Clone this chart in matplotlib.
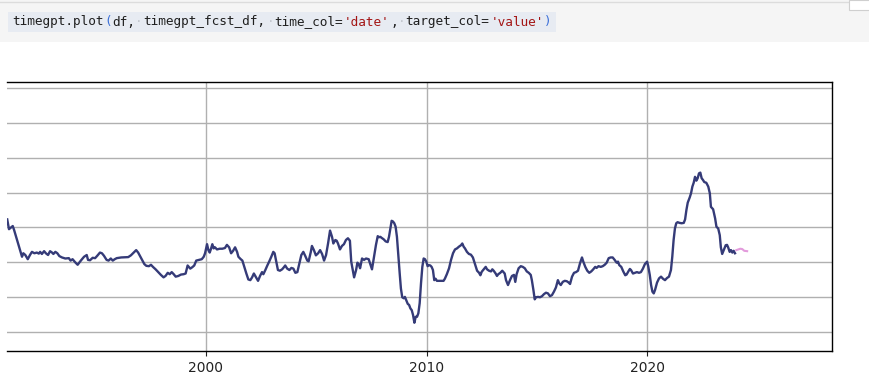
import matplotlib
matplotlib.use("Agg")
import matplotlib.pyplot as plt
from matplotlib.patches import Rectangle

# serie historica (ano decimal, valor)
anos = [1991.01, 1991.09, 1991.26, 1991.32, 1991.68, 1991.74, 1991.83, 1991.94,
        1992.04, 1992.13, 1992.24, 1992.35, 1992.44, 1992.50, 1992.58, 1992.68,
        1992.76, 1992.86, 1992.95, 1993.04, 1993.10, 1993.19, 1993.28, 1993.37,
        1993.49, 1993.64, 1993.80, 1993.88, 1993.97, 1994.09, 1994.20, 1994.27,
        1994.37, 1994.49, 1994.61, 1994.67, 1994.76, 1994.88, 1994.99, 1995.09,
        1995.21, 1995.30, 1995.39, 1995.51, 1995.60, 1995.70, 1995.79, 1995.88,
        1995.97, 1996.17, 1996.49, 1996.61, 1996.74, 1996.85, 1996.94, 1997.04,
        1997.13, 1997.22, 1997.31, 1997.43, 1997.52, 1997.61, 1997.73, 1997.85,
        1997.97, 1998.09, 1998.18, 1998.28, 1998.37, 1998.46, 1998.55, 1998.64,
        1998.76, 1998.88, 1999.00, 1999.09, 1999.18, 1999.30, 1999.39, 1999.48,
        1999.57, 1999.69, 1999.82, 1999.91, 1999.97, 2000.06, 2000.12, 2000.18,
        2000.24, 2000.30, 2000.36, 2000.42, 2000.51, 2000.63, 2000.75, 2000.87,
        2000.96, 2001.06, 2001.15, 2001.24, 2001.33, 2001.42, 2001.48, 2001.57,
        2001.66, 2001.75, 2001.84, 2001.93, 2002.02, 2002.10, 2002.18, 2002.28,
        2002.37, 2002.46, 2002.55, 2002.61, 2002.70, 2002.79, 2002.88, 2002.97,
        2003.06, 2003.12, 2003.18, 2003.27, 2003.36, 2003.46, 2003.54, 2003.60,
        2003.69, 2003.79, 2003.88, 2003.97, 2004.06, 2004.15, 2004.24, 2004.33,
        2004.42, 2004.51, 2004.60, 2004.66, 2004.76, 2004.81, 2004.90, 2004.99,
        2005.09, 2005.18, 2005.27, 2005.36, 2005.45, 2005.54, 2005.63, 2005.72,
        2005.78, 2005.87, 2005.93, 2005.99, 2006.08, 2006.17, 2006.26, 2006.35,
        2006.44, 2006.53, 2006.59, 2006.66, 2006.72, 2006.81, 2006.87, 2006.93,
        2006.99, 2007.08, 2007.17, 2007.26, 2007.38, 2007.47, 2007.53, 2007.62,
        2007.71, 2007.79, 2007.85, 2007.91, 2007.97, 2008.06, 2008.15, 2008.24,
        2008.30, 2008.36, 2008.42, 2008.48, 2008.54, 2008.60, 2008.66, 2008.72,
        2008.79, 2008.84, 2008.90, 2008.97, 2009.02, 2009.08, 2009.15, 2009.21,
        2009.27, 2009.33, 2009.39, 2009.45, 2009.51, 2009.57, 2009.63, 2009.69,
        2009.75, 2009.81, 2009.87, 2009.93, 2009.99, 2010.05, 2010.11, 2010.17,
        2010.23, 2010.29, 2010.35, 2010.41, 2010.47, 2010.56, 2010.68, 2010.77,
        2010.83, 2010.92, 2011.02, 2011.11, 2011.20, 2011.29, 2011.38, 2011.47,
        2011.56, 2011.62, 2011.68, 2011.74, 2011.83, 2011.92, 2012.01, 2012.10,
        2012.16, 2012.23, 2012.29, 2012.38, 2012.44, 2012.50, 2012.59, 2012.68,
        2012.74, 2012.83, 2012.92, 2012.98, 2013.04, 2013.13, 2013.19, 2013.25,
        2013.34, 2013.43, 2013.54, 2013.60, 2013.69, 2013.78, 2013.87, 2013.96,
        2014.02, 2014.08, 2014.17, 2014.27, 2014.36, 2014.45, 2014.54, 2014.63,
        2014.72, 2014.77, 2014.84, 2014.90, 2014.96, 2015.05, 2015.14, 2015.23,
        2015.32, 2015.41, 2015.50, 2015.59, 2015.68, 2015.77, 2015.86, 2015.95,
        2016.01, 2016.08, 2016.17, 2016.26, 2016.35, 2016.44, 2016.50, 2016.59,
        2016.68, 2016.77, 2016.86, 2016.95, 2017.04, 2017.10, 2017.19, 2017.28,
        2017.37, 2017.46, 2017.55, 2017.64, 2017.70, 2017.79, 2017.89, 2017.98,
        2018.07, 2018.16, 2018.25, 2018.34, 2018.43, 2018.52, 2018.61, 2018.67,
        2018.73, 2018.82, 2018.91, 2019.00, 2019.06, 2019.15, 2019.21, 2019.26,
        2019.35, 2019.44, 2019.53, 2019.62, 2019.71, 2019.80, 2019.89, 2019.99,
        2020.04, 2020.11, 2020.17, 2020.23, 2020.29, 2020.35, 2020.44, 2020.53,
        2020.62, 2020.71, 2020.80, 2020.89, 2020.98, 2021.07, 2021.13, 2021.19,
        2021.25, 2021.31, 2021.37, 2021.46, 2021.55, 2021.65, 2021.71, 2021.77,
        2021.83, 2021.92, 2021.98, 2022.04, 2022.10, 2022.16, 2022.22, 2022.28,
        2022.34, 2022.40, 2022.46, 2022.52, 2022.58, 2022.67, 2022.76, 2022.83,
        2022.88, 2022.98, 2023.07, 2023.13, 2023.21, 2023.28, 2023.33, 2023.39,
        2023.46, 2023.55, 2023.61, 2023.66, 2023.73, 2023.79, 2023.85, 2023.91,
        2023.97]

valores = [1.23, 0.95, 1.04, 0.93, 0.16, 0.26, 0.21, 0.09,
           0.21, 0.30, 0.26, 0.28, 0.25, 0.30, 0.24, 0.32,
           0.26, 0.21, 0.32, 0.28, 0.24, 0.30, 0.26, 0.18,
           0.14, 0.11, 0.12, 0.05, 0.09, 0.00, -0.07, -0.01,
           0.07, 0.16, 0.21, 0.07, 0.06, 0.13, 0.12, 0.19,
           0.28, 0.26, 0.19, 0.07, 0.05, 0.11, 0.05, 0.09,
           0.12, 0.14, 0.15, 0.20, 0.28, 0.35, 0.28, 0.16,
           0.05, -0.05, -0.10, -0.11, -0.07, -0.13, -0.20, -0.28,
           -0.36, -0.43, -0.39, -0.30, -0.34, -0.28, -0.34, -0.41,
           -0.39, -0.35, -0.34, -0.32, -0.09, -0.18, -0.14, -0.09,
           0.05, 0.07, 0.09, 0.16, 0.26, 0.52, 0.35, 0.28,
           0.39, 0.52, 0.40, 0.43, 0.37, 0.39, 0.39, 0.41,
           0.50, 0.43, 0.26, 0.33, 0.43, 0.30, 0.16, 0.10,
           0.05, -0.14, -0.32, -0.49, -0.51, -0.43, -0.32, -0.43,
           -0.53, -0.39, -0.28, -0.34, -0.22, -0.09, 0.03, 0.16,
           0.30, 0.26, 0.07, -0.22, -0.24, -0.20, -0.14, -0.09,
           -0.18, -0.22, -0.16, -0.18, -0.30, -0.28, -0.03, 0.21,
           0.30, 0.18, 0.05, 0.03, 0.30, 0.47, 0.35, 0.20,
           0.26, 0.35, 0.24, 0.05, 0.21, 0.54, 0.91, 0.73,
           0.54, 0.64, 0.62, 0.54, 0.37, 0.47, 0.52, 0.64,
           0.69, 0.62, 0.02, -0.22, -0.43, -0.22, -0.01, -0.05,
           -0.17, 0.11, 0.07, 0.11, 0.09, -0.08, -0.20, 0.16,
           0.50, 0.75, 0.72, 0.73, 0.70, 0.66, 0.60, 0.58,
           0.73, 0.97, 1.19, 1.17, 1.12, 1.02, 0.73, 0.21,
           -0.36, -0.75, -1.00, -1.03, -0.99, -1.08, -1.19, -1.22,
           -1.32, -1.37, -1.51, -1.73, -1.56, -1.56, -1.46, -1.17,
           -0.60, -0.13, 0.11, 0.09, 0.02, -0.11, -0.08, -0.09,
           -0.13, -0.22, -0.51, -0.47, -0.53, -0.53, -0.53, -0.53,
           -0.47, -0.34, -0.17, 0.07, 0.26, 0.37, 0.40, 0.45,
           0.49, 0.54, 0.45, 0.40, 0.30, 0.24, 0.22, 0.14,
           0.02, -0.13, -0.24, -0.30, -0.37, -0.27, -0.20, -0.13,
           -0.20, -0.24, -0.26, -0.20, -0.24, -0.32, -0.39, -0.34,
           -0.30, -0.24, -0.32, -0.51, -0.65, -0.51, -0.39, -0.36,
           -0.56, -0.34, -0.17, -0.11, -0.13, -0.17, -0.26, -0.30,
           -0.36, -0.51, -0.79, -1.06, -1.00, -0.99, -1.00, -0.97,
           -0.91, -0.87, -0.89, -0.97, -0.94, -0.84, -0.72, -0.51,
           -0.60, -0.65, -0.56, -0.53, -0.54, -0.58, -0.62, -0.41,
           -0.30, -0.28, -0.24, -0.03, 0.14, 0.02, -0.13, -0.24,
           -0.30, -0.26, -0.20, -0.13, -0.16, -0.11, -0.13, -0.11,
           -0.07, -0.01, 0.12, 0.14, 0.14, 0.07, -0.01, 0.02,
           -0.08, -0.13, -0.26, -0.37, -0.35, -0.25, -0.19, -0.22,
           -0.32, -0.30, -0.28, -0.30, -0.28, -0.18, -0.05, 0.02,
           -0.11, -0.36, -0.65, -0.84, -0.89, -0.79, -0.58, -0.46,
           -0.41, -0.47, -0.51, -0.45, -0.41, -0.22, 0.16, 0.64,
           0.97, 1.12, 1.15, 1.13, 1.12, 1.13, 1.23, 1.50,
           1.71, 1.86, 1.98, 2.17, 2.28, 2.45, 2.34, 2.41,
           2.55, 2.57, 2.41, 2.36, 2.30, 2.28, 2.17, 1.98,
           1.59, 1.52, 1.26, 1.02, 0.97, 0.78, 0.43, 0.24,
           0.35, 0.49, 0.50, 0.43, 0.30, 0.35, 0.28, 0.33,
           0.26]

# previsao do timegpt
anos_prev = [2024.03, 2024.12, 2024.21, 2024.30, 2024.39, 2024.52]
valores_prev = [0.35, 0.37, 0.39, 0.38, 0.33, 0.32]

anos_ticks = [2000, 2010, 2020]
grade_y = [-2, -1, 0, 1, 2, 3, 4, 5]

W, H = 869, 387


def px(x, y):
    # pixel (a partir do topo) -> fracao da figura
    return x / W, 1 - y / H


fig = plt.figure(figsize=(W / 100, H / 100), dpi=100)

# celula de codigo do notebook
fig.patches.append(Rectangle(px(0, 42), 1, 42 / H, transform=fig.transFigure,
                             facecolor="#f5f5f5", edgecolor="none", zorder=0))
fig.add_artist(plt.Line2D([0, 1], [1 - 1.5 / H] * 2, transform=fig.transFigure,
                          color="#dcdcdc", lw=1))
fig.patches.append(Rectangle(px(8, 32), 548 / W, 20 / H, transform=fig.transFigure,
                             facecolor="#e7ebf2", edgecolor="none", zorder=1))
fig.patches.append(Rectangle(px(849, 10), 25 / W, 10 / H, transform=fig.transFigure,
                             facecolor="white", edgecolor="#cfcfcf", lw=0.8, zorder=2))
fig.add_artist(plt.Line2D([859 / W] * 2, [1 - 1 / H, 1 - 8 / H], transform=fig.transFigure,
                          color="#555555", lw=0.8))

escuro, azul, vermelho, pontinho = "#1f1f1f", "#3b6fd8", "#a31515", "#c4c8cf"
pedacos = [("timegpt.plot", escuro), ("(", azul), ("df,", escuro), ("·", pontinho),
           ("timegpt_fcst_df,", escuro), ("·", pontinho), ("time_col=", escuro),
           ("'date'", vermelho), (",", escuro), ("·", pontinho), ("target_col=", escuro),
           ("'value'", vermelho), (")", azul)]
larg_char = (552 - 12) / 70
pos = 0
for txt, cor in pedacos:
    fig.text(*px(12 + pos * larg_char, 22), txt, color=cor, family="DejaVu Sans Mono",
             fontsize=9.2, va="center", ha="left", zorder=3)
    pos += len(txt)

# area do grafico
ax = fig.add_axes([7 / W, (H - 351) / H, (831.7 - 7) / W, (351 - 81.7) / H])
ax.plot(anos, valores, color="#353b78", lw=1.7)
ax.plot(anos_prev, valores_prev, color="#e39bdc", lw=1.5)

ax.set_xlim(1991.0, 2028.35)
ax.set_ylim(-2.54, 5.175)
ax.set_xticks(anos_ticks)
ax.set_xticklabels([str(a) for a in anos_ticks])
ax.set_yticks(grade_y)
ax.tick_params(axis="y", left=False, labelleft=False)
ax.tick_params(axis="x", labelsize=10, colors="#222222")
ax.grid(True, color="#b0b0b0", lw=1.0)
ax.spines["left"].set_visible(False)
for s in ["top", "right", "bottom"]:
    ax.spines[s].set_linewidth(1.0)

fig.savefig("out.png", dpi=100)
